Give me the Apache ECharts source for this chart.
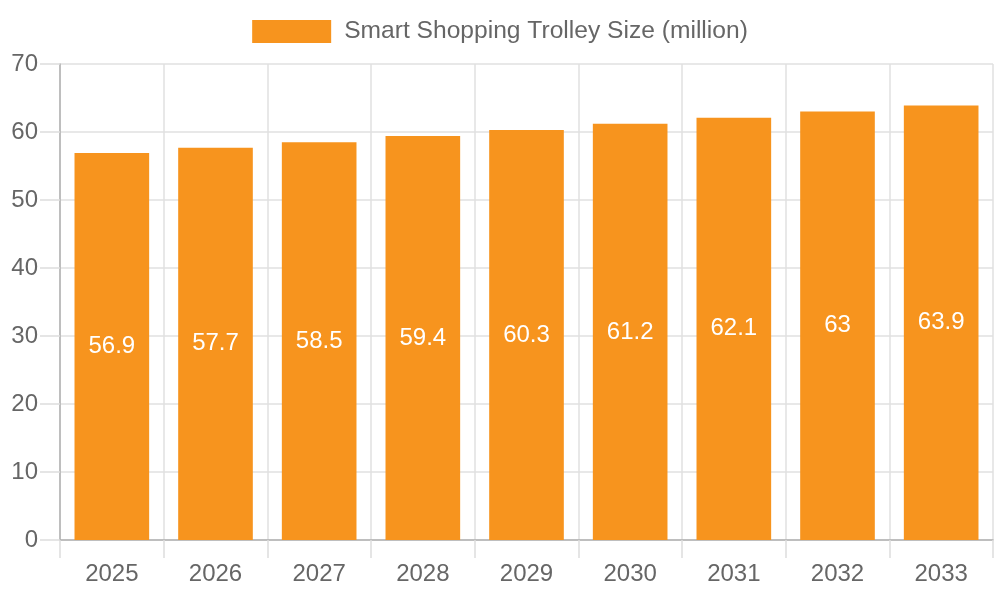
<!DOCTYPE html>
<html>
<head>
<meta charset="utf-8">
<script src="https://cdn.jsdelivr.net/npm/echarts@6/dist/echarts.min.js"></script>
<style>
  html, body { margin: 0; padding: 0; background: #fff; }
  #chart { width: 1000px; height: 600px; }
</style>
</head>
<body>
<div id="chart"></div>
<script>
var years = ['2025', '2026', '2027', '2028', '2029', '2030', '2031', '2032', '2033'];
var trolleySize = [56.9, 57.7, 58.5, 59.4, 60.3, 61.2, 62.1, 63, 63.9];
var seriesName = 'Smart Shopping Trolley Size (million)';

var myChart = echarts.init(document.getElementById('chart'));
myChart.setOption({
    animation: false,
    textStyle: { fontFamily: 'Liberation Sans, Arial, sans-serif' },
    legend: {
        data: [seriesName],
        top: 14,
        left: 'center',
        itemWidth: 79,
        itemHeight: 23,
        icon: 'rect',
        textStyle: { fontSize: 24.6, color: '#666', padding: [0, 0, 0, 8] }
    },
    grid: { left: 60, right: 7, top: 64, bottom: 60 },
    xAxis: {
        type: 'category',
        data: years,
        axisLine: { lineStyle: { color: '#b0b0b0', width: 1.5 } },
        axisTick: { show: true, length: 18, lineStyle: { color: '#ddd', width: 1.5 } },
        axisLabel: { fontSize: 24, color: '#666', margin: 22 },
        splitLine: { show: true, lineStyle: { color: '#e0e0e0', width: 1.5 } }
    },
    yAxis: {
        type: 'value',
        min: 0,
        max: 70,
        interval: 10,
        axisLine: { show: true, lineStyle: { color: '#b0b0b0', width: 1.5 } },
        axisTick: { show: true, length: 20, lineStyle: { color: '#ddd', width: 1.5 } },
        axisLabel: { fontSize: 24, color: '#666', margin: 22 },
        splitLine: { lineStyle: { color: '#e0e0e0', width: 1.5 } }
    },
    series: [
        {
            name: seriesName,
            type: 'bar',
            data: trolleySize,
            barWidth: '72%',
            itemStyle: { color: '#F7941E' },
            label: {
                show: true,
                position: 'inside',
                color: '#fff',
                fontSize: 24
            }
        }
    ]
});
</script>
</body>
</html>
